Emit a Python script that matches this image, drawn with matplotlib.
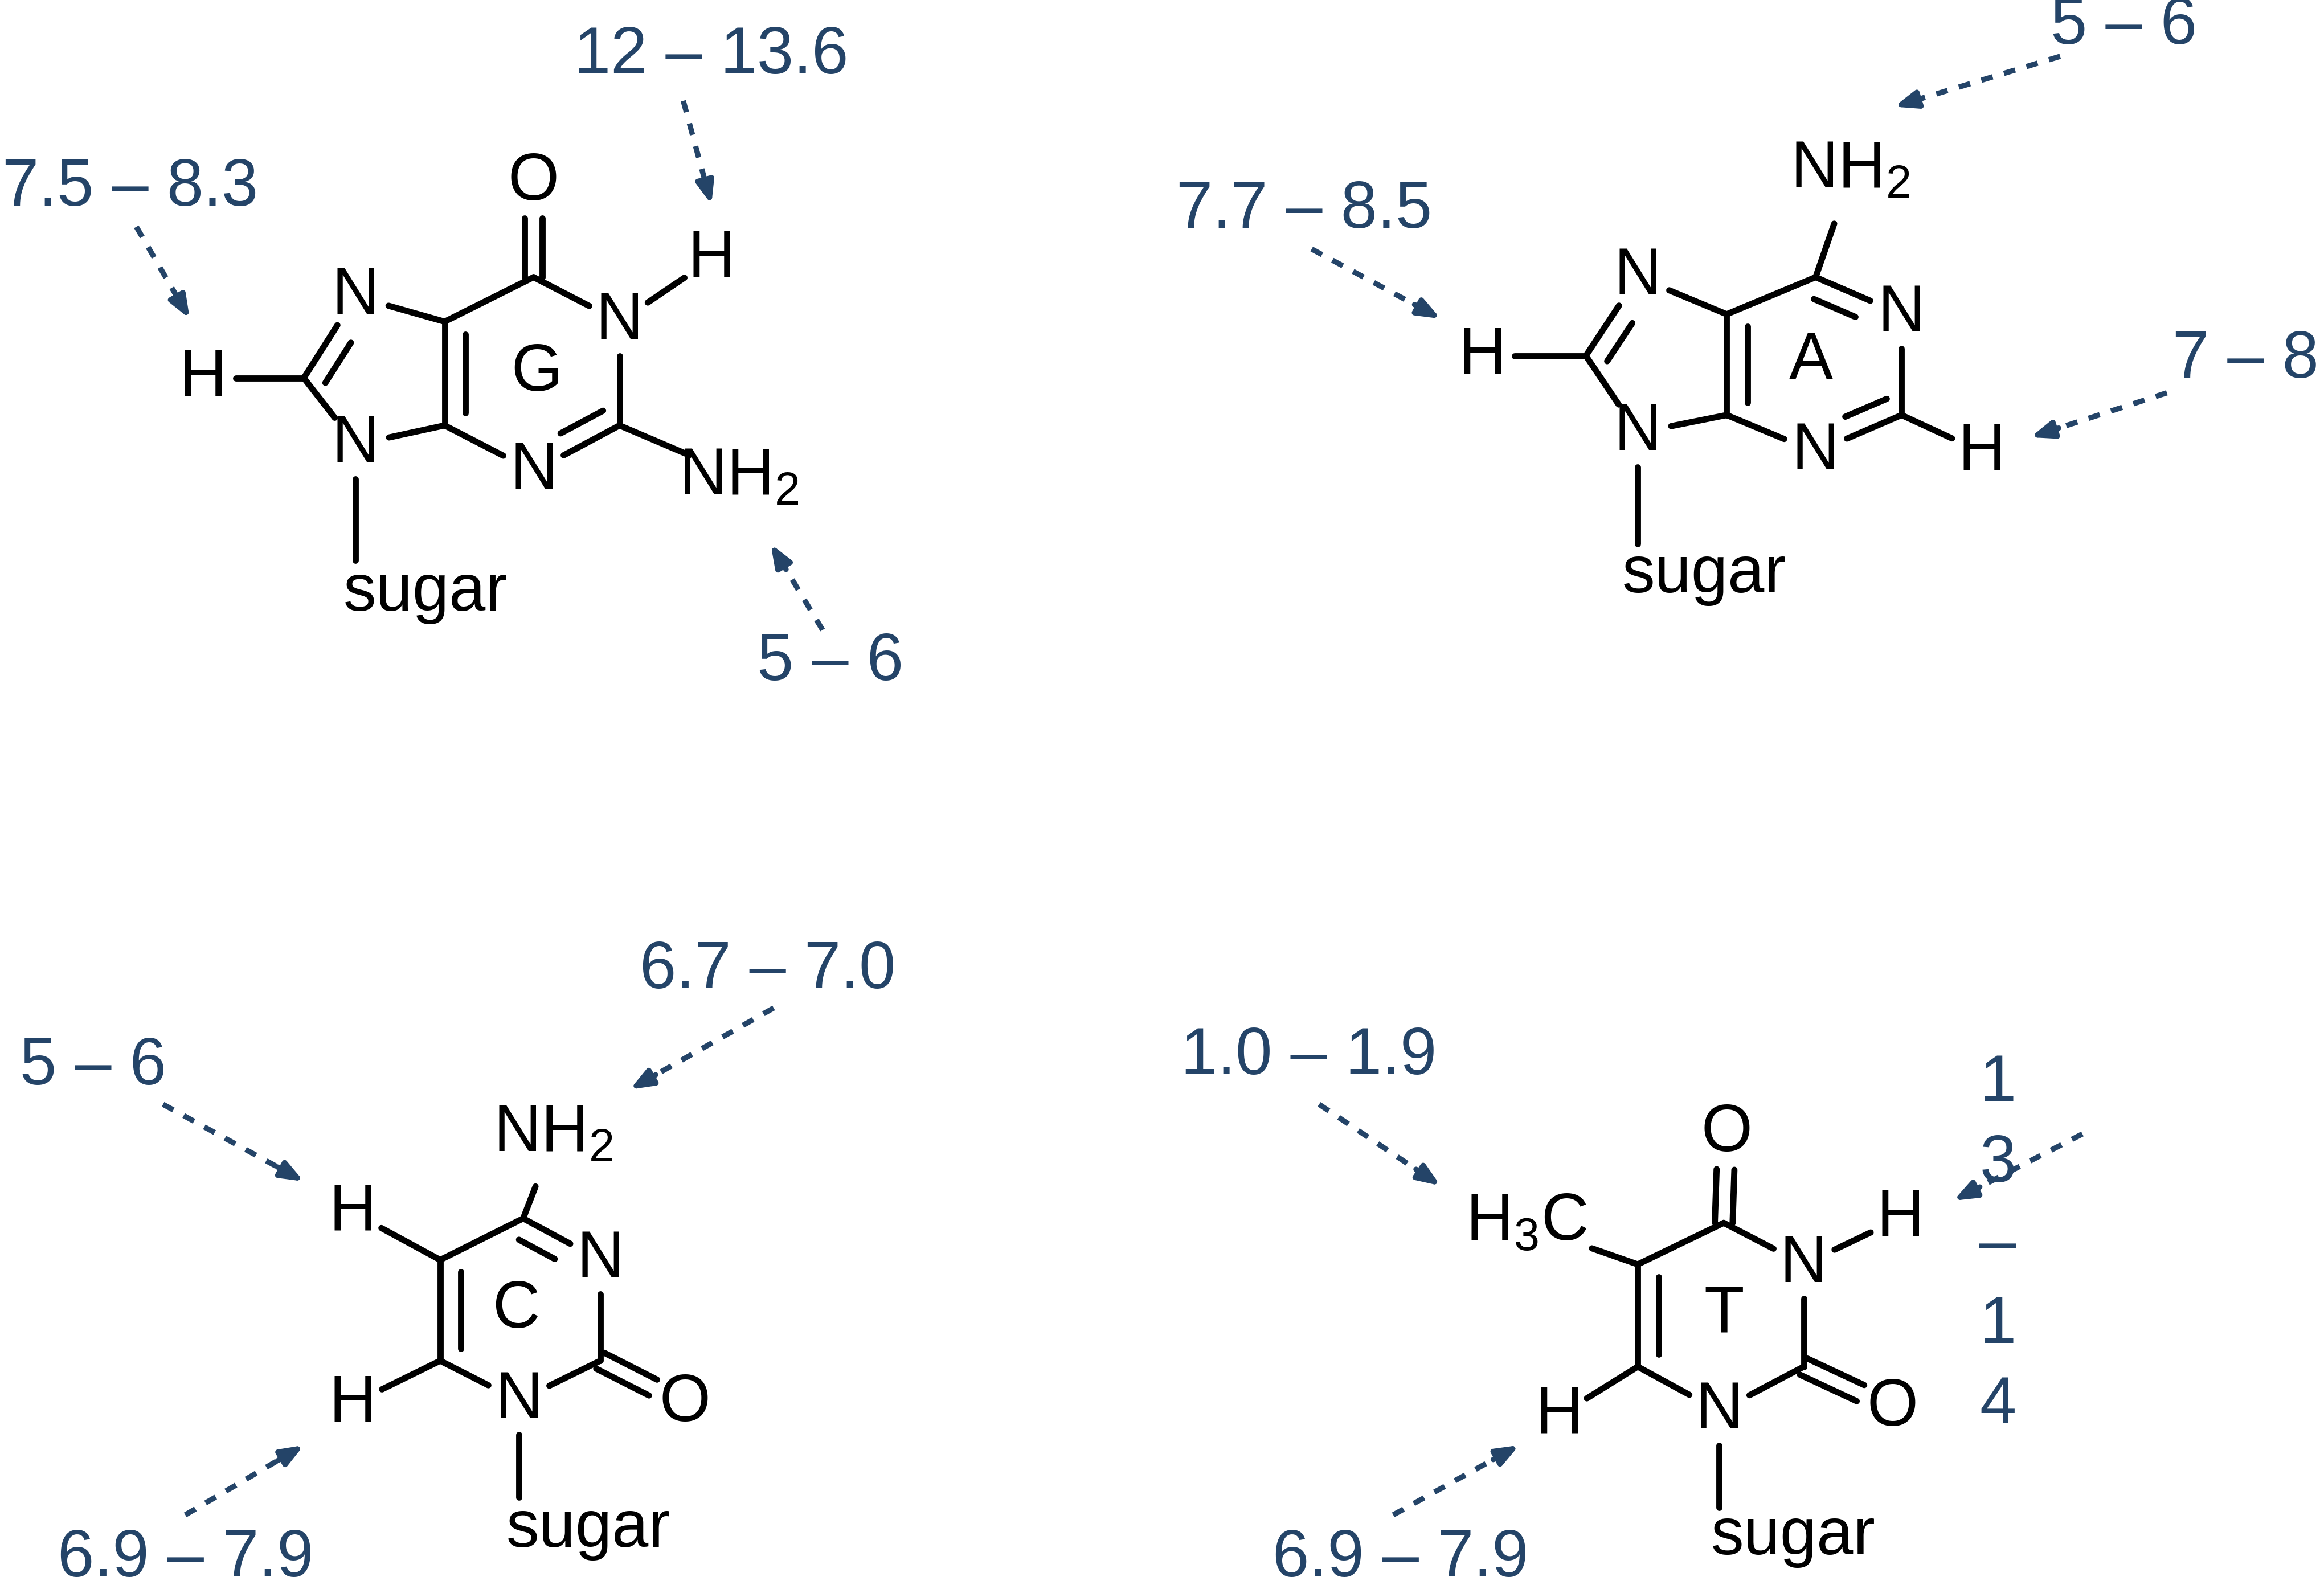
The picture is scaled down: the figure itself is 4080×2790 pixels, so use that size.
import numpy as np
import matplotlib
matplotlib.use("Agg")
import matplotlib.pyplot as plt

plt.rcParams['font.family'] = ['Liberation Sans', 'DejaVu Sans']
plt.rcParams['mathtext.fontset'] = 'custom'
plt.rcParams['mathtext.rm'] = 'Liberation Sans'
plt.rcParams['mathtext.default'] = 'rm'

BLUE = '#244468'
W, H = 1568, 1072

# atoms: name -> (label, x, y, trim radius)
guanine = {
    'O': ('O', 360, 123, 24), 'C6': ('', 360, 187, 0), 'N1': ('N', 418, 217, 23),
    'H1': ('H', 480, 175, 22), 'C2': ('', 418, 287, 0), 'NH2': ('NH$_2$', 500, 322, 0),
    'N3': ('N', 360, 318, 23), 'C4': ('', 300, 287, 0), 'C5': ('', 300, 217, 0),
    'N7': ('N', 240, 200, 23), 'C8': ('', 205, 255, 0), 'H8': ('H', 137, 255, 22),
    'N9': ('N', 240, 300, 23), 'S': ('', 240, 378, 0),
}
guanine_bonds = [('O', 'C6', 'c'), ('C6', 'N1', 1), ('N1', 'H1', 1), ('N1', 'C2', 1),
                 ('C2', 'N3', 'r'), ('C2', 'NH2', 1), ('N3', 'C4', 1), ('C4', 'C5', 'r'),
                 ('C5', 'C6', 1), ('C5', 'N7', 1), ('N7', 'C8', 'r'), ('C8', 'H8', 1),
                 ('C8', 'N9', 1), ('N9', 'C4', 1), ('N9', 'S', 1)]

adenine = {
    'NH2': ('NH$_2$', 1250, 115, 0), 'C6': ('', 1225, 187, 0), 'N1': ('N', 1283, 212, 23),
    'C2': ('', 1283, 280, 0), 'N3': ('N', 1225, 305, 23), 'C4': ('', 1165, 280, 0),
    'C5': ('', 1165, 212, 0), 'N7': ('N', 1105, 187, 23), 'C8': ('', 1070, 240, 0),
    'H8': ('H', 1000, 240, 22), 'N9': ('N', 1105, 292, 23), 'H2': ('H', 1337, 305, 22),
    'S': ('', 1105, 367, 0),
}
adenine_bonds = [('NH2', 'C6', 1), ('C6', 'N1', 'r'), ('N1', 'C2', 1), ('C2', 'N3', 'r'),
                 ('C2', 'H2', 1), ('N3', 'C4', 1), ('C4', 'C5', 'r'), ('C5', 'C6', 1),
                 ('C5', 'N7', 1), ('N7', 'C8', 'r'), ('C8', 'H8', 1), ('C8', 'N9', 1),
                 ('N9', 'C4', 1), ('N9', 'S', 1)]

cytosine = {
    'NH2': ('NH$_2$', 375, 765, 0), 'C4': ('', 353, 822, 0), 'N3': ('N', 405, 850, 23),
    'C2': ('', 405, 918, 0), 'O': ('O', 462, 947, 24), 'N1': ('N', 350, 945, 23),
    'C6': ('', 297, 918, 0), 'C5': ('', 297, 850, 0), 'H5': ('H', 238, 818, 22),
    'H6': ('H', 238, 947, 22), 'S': ('', 350, 1010, 0),
}
cytosine_bonds = [('NH2', 'C4', 1), ('C4', 'N3', 'r'), ('N3', 'C2', 1), ('C2', 'O', 'c'),
                  ('C2', 'N1', 1), ('N1', 'C6', 1), ('C6', 'C5', 'r'), ('C5', 'C4', 1),
                  ('C5', 'H5', 1), ('C6', 'H6', 1), ('N1', 'S', 1)]

thymine = {
    'O4': ('O', 1165, 765, 24), 'C4': ('', 1163, 825, 0), 'N3': ('N', 1217, 853, 23),
    'H3': ('H', 1282, 822, 22), 'C2': ('', 1217, 922, 0), 'O2': ('O', 1277, 950, 24),
    'N1': ('N', 1160, 952, 23), 'C6': ('', 1105, 922, 0), 'C5': ('', 1105, 853, 0),
    'CH3': ('H$_3$C', 1025, 825, 0), 'H6': ('H', 1052, 955, 22), 'S': ('', 1160, 1017, 0),
}
thymine_bonds = [('O4', 'C4', 'c'), ('C4', 'N3', 1), ('N3', 'H3', 1), ('N3', 'C2', 1),
                 ('C2', 'O2', 'c'), ('C2', 'N1', 1), ('N1', 'C6', 1), ('C6', 'C5', 'r'),
                 ('C5', 'C4', 1), ('C5', 'CH3', 1), ('C6', 'H6', 1), ('N1', 'S', 1)]

# ring label, center of the ring used for inner double bond lines
rings = [('G', 362, 252), ('A', 1222, 244), ('C', 348, 884), ('T', 1163, 887)]
sugars = [(287, 400), (1150, 388), (397, 1032), (1210, 1037)]
molecules = [(guanine, guanine_bonds), (adenine, adenine_bonds),
             (cytosine, cytosine_bonds), (thymine, thymine_bonds)]

# shift labels: text, text position, arrow start, arrow end
shift_labels = ['7.5 – 8.3', '12 – 13.6', '5 – 6', '5 – 6', '7.7 – 8.5', '7 – 8',
                '6.7 – 7.0', '5 – 6', '6.9 – 7.9', '1.0 – 1.9', '1\n3\n–\n1\n4', '6.9 – 7.9']
label_pos = [(88, 127), (480, 38), (560, 447), (1433, 18), (880, 142), (1515, 243),
             (518, 655), (63, 720), (125, 1052), (883, 713), (1348, 840), (945, 1052)]
arrow_from = [(92, 153), (461, 68), (555, 425), (1390, 38), (885, 168), (1462, 265),
              (522, 680), (110, 745), (125, 1022), (890, 745), (1405, 765), (940, 1022)]
arrow_to = [(128, 215), (480, 138), (520, 367), (1278, 72), (972, 215), (1370, 295),
            (425, 735), (205, 797), (205, 975), (972, 800), (1318, 810), (1025, 975)]

fig = plt.figure(figsize=(4080 / 260, 2790 / 260), dpi=260)
ax = fig.add_axes([0, 0, 1, 1])
ax.set_xlim(0, W)
ax.set_ylim(H, 0)
ax.axis('off')

LW = 3.0
FS = 32


def trim_of(atom):
    if atom[0].startswith('NH'):
        return 38
    if atom[0].startswith('H$_3'):
        return 52
    return atom[3]


def trimmed(a, b):
    p = np.array(a[1:3], float)
    q = np.array(b[1:3], float)
    d = (q - p) / np.linalg.norm(q - p)
    return p + d * trim_of(a), q - d * trim_of(b)


for (atoms, bonds), (_, cx, cy) in zip(molecules, rings):
    for i, j, kind in bonds:
        p, q = trimmed(atoms[i], atoms[j])
        d = q - p
        n = np.array([-d[1], d[0]]) / np.linalg.norm(d)
        if kind == 'c':
            for s in (-6, 6):
                ax.plot([p[0] + n[0] * s, q[0] + n[0] * s], [p[1] + n[1] * s, q[1] + n[1] * s],
                        color='black', lw=LW, solid_capstyle='round')
            continue
        ax.plot([p[0], q[0]], [p[1], q[1]], color='black', lw=LW, solid_capstyle='round')
        if kind == 'r':
            mid = (p + q) / 2
            if np.dot(np.array([cx, cy]) - mid, n) < 0:
                n = -n
            a0 = p + d * 0.12 + n * 14
            a1 = q - d * 0.12 + n * 14
            ax.plot([a0[0], a1[0]], [a0[1], a1[1]], color='black', lw=LW, solid_capstyle='round')
    for label, x, y, r in atoms.values():
        if label:
            ha = 'center'
            if label.startswith('NH'):
                ha = 'left'
                x -= 42
            if label.startswith('H$_3'):
                ha = 'right'
                x += 46
            ax.text(x, y, label, fontsize=FS, ha=ha, va='center')

for name, x, y in rings:
    ax.text(x, y, name, fontsize=FS, ha='center', va='center')
for x, y in sugars:
    ax.text(x, y, 'sugar', fontsize=FS, ha='center', va='center')

for txt, (tx, ty), a, b in zip(shift_labels, label_pos, arrow_from, arrow_to):
    ax.text(tx, ty, txt, fontsize=FS, color=BLUE, ha='center', va='center',
            linespacing=1.38)
    a = np.array(a, float)
    b = np.array(b, float)
    d = (b - a) / np.linalg.norm(b - a)
    c = b - d * 20
    ax.plot([a[0], c[0]], [a[1], c[1]], color=BLUE, lw=2.6, linestyle=(0, (2.2, 2.2)))
    ax.annotate('', xy=b, xytext=c,
                arrowprops=dict(arrowstyle='-|>,head_length=0.9,head_width=0.35',
                                color=BLUE, lw=2.6, shrinkA=0, shrinkB=0))

fig.savefig('out.png', dpi=260)
